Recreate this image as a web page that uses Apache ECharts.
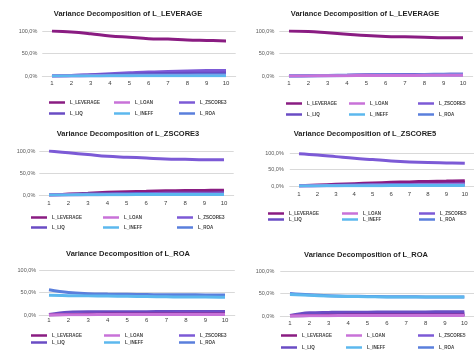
<!DOCTYPE html>
<html><head><meta charset="utf-8">
<script src="https://cdn.jsdelivr.net/npm/echarts@6/dist/echarts.min.js"></script>
<style>html,body{margin:0;padding:0;background:#fff}#c{width:474px;height:360px}</style>
</head><body><div id="c"></div>
<script>
// ---------- DATA ----------
const categories = ['1','2','3','4','5','6','7','8','9','10'];
const yTicks = [0, 50, 100];
const titles = [
  'Variance Decomposition of L_LEVERAGE',
  'Variance Decomposition of L_LEVERAGE',
  'Variance Decomposition of L_ZSCORE3',
  'Variance Decomposition of L_ZSCORE5',
  'Variance Decomposition of L_ROA',
  'Variance Decomposition of L_ROA'
];
const namesA = ['L_LEVERAGE','L_LOAN','L_ZSCORE3','L_LIQ','L_INEFF','L_ROA'];
const namesB = ['L_LEVERAGE','L_LOAN','L_ZSCORE5','L_LIQ','L_INEFF','L_ROA'];

// Panel 1: L_LEVERAGE (model with ZSCORE3)
const lev1   = [100, 98, 94, 89, 86, 83, 82, 80, 79, 78];
const loan1  = [0, 0, 0.3, 0.6, 0.8, 1, 1, 1.1, 1.2, 1.2];
const z1     = [0, 1, 3, 5, 7, 9, 10, 11, 12, 12.5];
const liq1   = [0, 1, 2, 3, 4, 5, 5.5, 6, 6, 6.5];
const ineff1 = [0, 0.1, 0.2, 0.3, 0.3, 0.4, 0.4, 0.4, 0.4, 0.4];
const roa1   = [0, 0.5, 1, 1.5, 2, 2, 2.5, 2.5, 3, 3];

// Panel 2: L_LEVERAGE (model with ZSCORE5)
const lev2   = [100, 99, 96, 93, 90, 88, 87, 86, 85, 85];
const loan2  = [0, 0.2, 0.5, 0.8, 1, 1.2, 1.3, 1.4, 1.5, 1.5];
const z2     = [0, 0.3, 0.8, 1.2, 1.6, 2, 2.2, 2.4, 2.6, 2.8];
const liq2   = [0, 0.3, 1, 1.5, 2, 2.5, 3, 3.3, 3.6, 3.8];
const ineff2 = [0, 0.2, 0.6, 1, 1.3, 1.6, 1.8, 2, 2.1, 2.2];
const roa2   = [0, 0.5, 1.2, 1.8, 2.3, 2.8, 3.2, 3.5, 3.8, 4];

// Panel 3: L_ZSCORE3
const lev3   = [0, 2, 4, 6, 7.5, 8.5, 9.5, 10, 10.5, 11];
const loan3  = [0, 0.3, 0.6, 1, 1.2, 1.4, 1.5, 1.6, 1.7, 1.8];
const z3     = [100, 96, 92, 88, 86, 84, 82, 81, 80, 80];
const liq3   = [0, 0.5, 1, 1.5, 2, 2.3, 2.6, 2.8, 3, 3];
const ineff3 = [0, 0.2, 0.4, 0.6, 0.8, 1, 1, 1.1, 1.1, 1.2];
const roa3   = [0, 1, 2, 2.5, 3, 3.5, 3.8, 4, 4.2, 4.3];

// Panel 4: L_ZSCORE5
const lev4   = [1, 3, 5, 7, 9, 11, 12.5, 14, 15, 16];
const loan4  = [0, 0.5, 1, 1.5, 2, 2.3, 2.6, 2.8, 3, 3];
const z4     = [98, 94, 89, 84, 80, 76, 73, 71, 70, 69];
const liq4   = [0, 1, 2, 2.8, 3.5, 4.2, 4.8, 5.3, 5.7, 6];
const ineff4 = [0, 0.3, 0.6, 0.8, 1, 1.2, 1.3, 1.4, 1.5, 1.5];
const roa4   = [0.5, 1.2, 1.8, 2.4, 3, 3.5, 4, 4.4, 4.7, 5];

// Panel 5: L_ROA (model with ZSCORE3)
const lev5   = [0, 1, 1.5, 2, 2, 2.2, 2.3, 2.4, 2.5, 2.5];
const loan5  = [0, 0.5, 0.8, 1, 1, 1.1, 1.2, 1.2, 1.3, 1.3];
const z5     = [0, 1.5, 2.5, 3, 3.3, 3.5, 3.6, 3.7, 3.8, 3.8];
const liq5   = [1, 6, 7, 7, 7.5, 7.5, 8, 8, 8, 8];
const ineff5 = [44, 43, 42.5, 42, 41.5, 41, 40.5, 40, 40, 39.5];
const roa5   = [56, 50, 47.5, 46.5, 46, 45.5, 45, 45, 44.5, 44.5];

// Panel 6: L_ROA (model with ZSCORE5)
const lev6   = [0, 1, 1.5, 2, 2, 2.2, 2.3, 2.4, 2.5, 2.5];
const loan6  = [0, 0.5, 0.8, 1, 1.1, 1.2, 1.2, 1.3, 1.3, 1.3];
const z6     = [0, 1, 1.5, 2, 2.2, 2.4, 2.5, 2.6, 2.7, 2.8];
const liq6   = [1, 7, 8, 8.5, 8.5, 9, 9, 9, 9.5, 9.5];
const ineff6 = [48, 46, 44.5, 43.5, 43, 42.5, 42.5, 42, 42, 42];
const roa6   = [50, 47, 45, 44, 43.5, 43, 43, 42.5, 42.5, 42.5];

const panels = [
  { title: titles[0], names: namesA, data: [lev1, loan1, z1, liq1, ineff1, roa1] },
  { title: titles[1], names: namesB, data: [lev2, loan2, z2, liq2, ineff2, roa2] },
  { title: titles[2], names: namesA, data: [lev3, loan3, z3, liq3, ineff3, roa3] },
  { title: titles[3], names: namesB, data: [lev4, loan4, z4, liq4, ineff4, roa4] },
  { title: titles[4], names: namesA, data: [lev5, loan5, z5, liq5, ineff5, roa5] },
  { title: titles[5], names: namesB, data: [lev6, loan6, z6, liq6, ineff6, roa6] }
];

// ---------- STYLE / LAYOUT ----------
const colors = ['#8a1c82', '#c872d8', '#7c5ad6', '#6a4cc4', '#5cb8ee', '#5a7fdc'];
const FONT = '"Liberation Sans", Arial, sans-serif';
const layout = [
  { grid: {left: 42.3, top: 31, width: 193.4, height: 45}, tx: 128, ty: 14, xm: 4, ym: 5, rows: [103, 114], cols: [70, 135, 200] },
  { grid: {left: 279.3, top: 31, width: 193.4, height: 45}, tx: 365, ty: 14, xm: 4, ym: 5, rows: [104, 115], cols: [307, 370, 439] },
  { grid: {left: 39.3, top: 151, width: 194.4, height: 44}, tx: 128, ty: 134, xm: 5, ym: 4, rows: [218, 228], cols: [52, 124, 198] },
  { grid: {left: 289.8, top: 153, width: 184.2, height: 33}, tx: 365, ty: 134, xm: 5, ym: 6, rows: [214, 220], cols: [289, 363, 440] },
  { grid: {left: 39.2, top: 270, width: 195.6, height: 45}, tx: 128, ty: 254, xm: 2, ym: 3, rows: [336, 343], cols: [52, 125, 200] },
  { grid: {left: 280.3, top: 271, width: 193.7, height: 45}, tx: 366, ty: 255, xm: 4, ym: 6, rows: [336, 348], cols: [302, 367, 439] }
];

const pct = v => v.toFixed(1).replace('.', ',') + '%';

const option = {
  animation: false,
  backgroundColor: '#ffffff',
  grid: [], xAxis: [], yAxis: [], series: [], legend: [], graphic: []
};

panels.forEach((p, i) => {
  const L = layout[i];
  option.grid.push(Object.assign({containLabel: false}, L.grid));
  option.xAxis.push({
    type: 'category', gridIndex: i, data: categories, boundaryGap: true,
    axisLine: {show: true, lineStyle: {color: '#d9d9d9', width: 1}},
    axisTick: {show: false},
    axisLabel: {fontSize: 6, color: '#404040', margin: L.xm, fontFamily: FONT},
    splitLine: {show: false}
  });
  option.yAxis.push({
    type: 'value', gridIndex: i, min: yTicks[0], max: yTicks[yTicks.length - 1], interval: yTicks[1] - yTicks[0],
    axisLine: {show: false}, axisTick: {show: false},
    axisLabel: {fontSize: 5.5, color: '#595959', margin: L.ym, formatter: pct, fontFamily: FONT},
    splitLine: {show: true, lineStyle: {color: '#d9d9d9', width: 1}}
  });
  option.graphic.push({
    type: 'text', x: L.tx, y: L.ty,
    style: {text: p.title, align: 'center', verticalAlign: 'middle',
            font: 'bold 7.5px ' + FONT, fill: '#1f1f1f'}
  });
  // ordering: larger series drawn first
  const maxes = p.data.map(d => Math.max.apply(null, d));
  const order = maxes.map((m, k) => k).sort((a, b) => maxes[b] - maxes[a]);
  p.data.forEach((d, k) => {
    const small = maxes[k] < 25;
    option.series.push({
      type: 'line', name: p.names[k], xAxisIndex: i, yAxisIndex: i, data: d,
      smooth: 0.4, showSymbol: false, symbol: 'none',
      z: 2 + order.indexOf(k),
      color: colors[k],
      lineStyle: {width: 3, color: colors[k]},
      areaStyle: small ? {color: colors[k], opacity: 1, origin: 'start'} : undefined
    });
    const row = k < 3 ? 0 : 1, col = k % 3;
    option.legend.push({
      data: [p.names[k]], selectedMode: false, orient: 'horizontal',
      left: L.cols[col] - 5 - 16, top: L.rows[row] - 3, padding: 0,
      itemWidth: 16, itemHeight: 2.5, icon: 'rect',
      textStyle: {fontSize: 4.5, fontWeight: 'bold', color: '#404040', fontFamily: FONT}
    });
  });
});

const chart = echarts.init(document.getElementById('c'), null, {renderer: 'canvas'});
chart.setOption(option);
</script>
</body></html>
